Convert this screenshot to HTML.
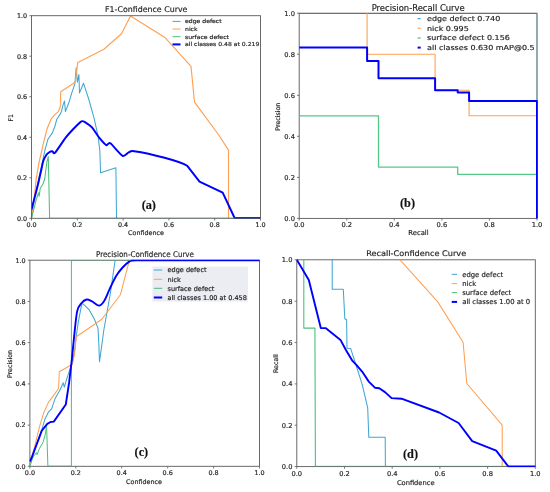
<!DOCTYPE html>
<html><head><meta charset="utf-8"><title>Curves</title>
<style>html,body{margin:0;padding:0;background:#fff;}svg{display:block;filter:blur(0.3px);}svg text{font-family:"DejaVu Sans","Liberation Sans",sans-serif;stroke:#262626;stroke-width:0.18px;}svg text.lb{font-family:"Liberation Serif","DejaVu Serif",serif;}</style></head>
<body><svg width="550" height="492" viewBox="0 0 550 492">
<rect width="550" height="492" fill="#fff"/>
<clipPath id="ca"><rect x="31.0" y="14.899999999999999" width="230.3" height="204.2"/></clipPath>
<polyline points="31.5,218.3 34.1,200.0 42.7,160.3 45.1,149.4 47.9,139.3 52.4,132.9 55.0,126.0 56.8,119.2 59.7,114.9 61.6,111.2 62.7,106.1 64.5,101.0 65.4,111.6 69.2,101.7 71.8,92.9 74.8,84.2 76.2,67.9 77.4,82.2 78.9,74.6 79.5,92.9 83.5,83.2 89.0,100.0 94.1,118.3 98.2,136.6 99.8,150.8 100.6,172.8 115.9,167.7 116.5,218.3" fill="none" stroke="#3fa6d2" stroke-width="1.05" stroke-linejoin="round" stroke-linecap="butt" clip-path="url(#ca)"/>
<polyline points="31.5,218.3 34.1,200.0 36.0,180.4 38.7,164.0 43.3,143.9 46.9,129.3 51.0,119.2 54.6,114.9 58.3,111.6 59.7,108.3 60.7,104.6 60.5,97.3 60.8,91.8 63.4,90.0 75.2,82.2 77.8,62.4 103.9,49.2 121.5,33.8 130.5,16.0 164.6,37.2 191.0,66.3 194.5,102.2 218.8,135.0 228.5,150.1 228.5,218.3" fill="none" stroke="#ffa052" stroke-width="1.15" stroke-linejoin="round" stroke-linecap="butt" clip-path="url(#ca)"/>
<polyline points="31.5,218.3 36.1,200.0 38.7,192.7 39.2,196.2 40.2,188.6 43.2,183.5 44.8,178.5 46.8,162.2 48.3,156.6 49.6,218.3" fill="none" stroke="#4abf7c" stroke-width="1.05" stroke-linejoin="round" stroke-linecap="butt" clip-path="url(#ca)"/>
<path d="M31.5,209.5 C31.5,209.5 35.0,196.0 35.0,196.0 C35.8,193.0 37.5,186.5 38.2,183.5 C38.9,180.5 40.6,172.9 41.2,170.3 C41.8,167.7 42.6,163.0 43.2,161.2 C43.8,159.4 45.6,156.2 46.3,155.1 C47.0,154.0 48.6,152.7 49.3,152.2 C50.0,151.7 51.7,151.1 52.4,151.2 C53.1,151.3 53.4,154.4 55.0,152.8 C56.6,151.2 63.5,140.4 65.7,137.6 C67.9,134.8 72.0,130.4 73.8,128.5 C75.6,126.6 80.1,122.0 81.5,121.3 C82.9,120.6 84.8,122.1 86.0,122.8 C87.2,123.5 90.5,125.7 92.0,127.4 C93.5,129.1 97.5,135.5 99.2,137.6 C100.9,139.7 105.0,144.4 106.3,145.1 C107.6,145.8 108.5,142.0 110.4,143.3 C112.3,144.6 120.5,154.8 122.6,155.9 C124.7,157.0 127.3,152.9 128.7,152.4 C130.1,151.9 130.0,150.6 134.2,151.2 C138.4,151.8 158.4,156.1 164.6,157.8 C170.8,159.5 183.0,162.9 187.1,165.7 C187.1,165.7 199.5,181.6 199.5,181.6 C199.5,181.6 222.7,192.7 222.7,192.7 C222.7,192.7 234.6,218.0 234.6,218.0 C234.6,218.0 260.5,218.0 260.5,218.0" fill="none" stroke="#0000ff" stroke-width="1.95" stroke-linejoin="round" clip-path="url(#ca)"/>
<rect x="31.5" y="15.7" width="229.0" height="202.6" fill="none" stroke="#5a5a5a" stroke-width="0.9"/>
<line x1="49.6" y1="217.85000000000002" x2="260.5" y2="217.85000000000002" stroke="#3f9a68" stroke-width="0.7" opacity="0.55"/>
<line x1="31.5" y1="218.3" x2="31.5" y2="220.5" stroke="#5a5a5a" stroke-width="0.8"/>
<line x1="31.5" y1="218.3" x2="29.3" y2="218.3" stroke="#5a5a5a" stroke-width="0.8"/>
<text x="31.5" y="226.6" font-size="6.4" text-anchor="middle" fill="#262626" >0.0</text>
<text x="27.2" y="220.6" font-size="6.4" text-anchor="end" fill="#262626" >0.0</text>
<line x1="77.3" y1="218.3" x2="77.3" y2="220.5" stroke="#5a5a5a" stroke-width="0.8"/>
<line x1="31.5" y1="177.8" x2="29.3" y2="177.8" stroke="#5a5a5a" stroke-width="0.8"/>
<text x="77.3" y="226.6" font-size="6.4" text-anchor="middle" fill="#262626" >0.2</text>
<text x="27.2" y="180.1" font-size="6.4" text-anchor="end" fill="#262626" >0.2</text>
<line x1="123.1" y1="218.3" x2="123.1" y2="220.5" stroke="#5a5a5a" stroke-width="0.8"/>
<line x1="31.5" y1="137.3" x2="29.3" y2="137.3" stroke="#5a5a5a" stroke-width="0.8"/>
<text x="123.1" y="226.6" font-size="6.4" text-anchor="middle" fill="#262626" >0.4</text>
<text x="27.2" y="139.6" font-size="6.4" text-anchor="end" fill="#262626" >0.4</text>
<line x1="168.9" y1="218.3" x2="168.9" y2="220.5" stroke="#5a5a5a" stroke-width="0.8"/>
<line x1="31.5" y1="96.7" x2="29.3" y2="96.7" stroke="#5a5a5a" stroke-width="0.8"/>
<text x="168.9" y="226.6" font-size="6.4" text-anchor="middle" fill="#262626" >0.6</text>
<text x="27.2" y="99.0" font-size="6.4" text-anchor="end" fill="#262626" >0.6</text>
<line x1="214.7" y1="218.3" x2="214.7" y2="220.5" stroke="#5a5a5a" stroke-width="0.8"/>
<line x1="31.5" y1="56.2" x2="29.3" y2="56.2" stroke="#5a5a5a" stroke-width="0.8"/>
<text x="214.7" y="226.6" font-size="6.4" text-anchor="middle" fill="#262626" >0.8</text>
<text x="27.2" y="58.5" font-size="6.4" text-anchor="end" fill="#262626" >0.8</text>
<line x1="260.5" y1="218.3" x2="260.5" y2="220.5" stroke="#5a5a5a" stroke-width="0.8"/>
<line x1="31.5" y1="15.7" x2="29.3" y2="15.7" stroke="#5a5a5a" stroke-width="0.8"/>
<text x="260.5" y="226.6" font-size="6.4" text-anchor="middle" fill="#262626" >1.0</text>
<text x="27.2" y="18.0" font-size="6.4" text-anchor="end" fill="#262626" >1.0</text>
<text x="146.2" y="12.3" font-size="7.9" text-anchor="middle" fill="#262626" textLength="82.4" lengthAdjust="spacingAndGlyphs" >F1-Confidence Curve</text>
<text x="146.0" y="235.2" font-size="6.4" text-anchor="middle" fill="#262626" >Confidence</text>
<text transform="translate(13.0,117.7) rotate(-90)" font-size="6.2" text-anchor="middle" fill="#262626">F1</text>
<line x1="172.5" y1="21.4" x2="180.5" y2="21.4" stroke="#3fa6d2" stroke-width="1"/>
<text transform="translate(185.0,23.3) scale(1.115,1)" font-size="5.5" fill="#262626">edge defect</text>
<line x1="172.5" y1="29.0" x2="180.5" y2="29.0" stroke="#ffa052" stroke-width="1"/>
<text transform="translate(185.0,30.9) scale(1.115,1)" font-size="5.5" fill="#262626">nick</text>
<line x1="172.5" y1="36.7" x2="180.5" y2="36.7" stroke="#4abf7c" stroke-width="1"/>
<text transform="translate(185.0,38.6) scale(1.115,1)" font-size="5.5" fill="#262626">surface defect</text>
<line x1="172.5" y1="44.4" x2="180.5" y2="44.4" stroke="#0000ff" stroke-width="2"/>
<text transform="translate(185.0,46.3) scale(1.115,1)" font-size="5.5" fill="#262626">all classes 0.48 at 0.219</text>
<text x="148.8" y="209.3" class="lb" font-weight="bold" font-size="12.3" text-anchor="middle" fill="#111">(a)</text>
<clipPath id="cb"><rect x="298.7" y="12.399999999999999" width="239.1" height="206.8"/></clipPath>
<polyline points="299.2,13.5 537.0,13.5" fill="none" stroke="#7fa3b8" stroke-width="1.0" stroke-linejoin="round" stroke-linecap="butt" clip-path="url(#cb)"/>
<rect x="299.2" y="13.2" width="237.8" height="205.2" fill="none" stroke="#5a5a5a" stroke-width="0.9"/>
<polyline points="537.0,13.2 537.0,218.4" fill="none" stroke="#6a9bb6" stroke-width="0.9" stroke-linejoin="round" stroke-linecap="butt" clip-path="url(#cb)"/>
<polyline points="367.1,13.2 367.1,54.2 435.1,54.2 435.1,90.2 469.1,90.2 469.1,115.8 537.0,115.8" fill="none" stroke="#ffa052" stroke-width="1.1" stroke-linejoin="round" stroke-linecap="butt" clip-path="url(#cb)"/>
<polyline points="299.2,115.8 378.5,115.8 378.5,167.1 457.7,167.1 457.7,174.4 537.0,174.4" fill="none" stroke="#55c888" stroke-width="1.3" stroke-linejoin="round" stroke-linecap="butt" clip-path="url(#cb)"/>
<polyline points="299.2,47.4 367.1,47.4 367.1,61.1 378.5,61.1 378.5,78.2 435.1,78.2 435.1,90.2 457.7,90.2 457.7,92.6 469.1,92.6 469.1,101.1 537.0,101.1 537.0,218.4" fill="none" stroke="#0000ff" stroke-width="2" stroke-linejoin="round" stroke-linecap="butt" clip-path="url(#cb)"/>
<line x1="299.2" y1="218.4" x2="299.2" y2="220.6" stroke="#5a5a5a" stroke-width="0.8"/>
<line x1="299.2" y1="218.4" x2="297.0" y2="218.4" stroke="#5a5a5a" stroke-width="0.8"/>
<text x="299.2" y="226.9" font-size="6.7" text-anchor="middle" fill="#262626" >0.0</text>
<text x="294.9" y="220.8" font-size="6.7" text-anchor="end" fill="#262626" >0.0</text>
<line x1="346.8" y1="218.4" x2="346.8" y2="220.6" stroke="#5a5a5a" stroke-width="0.8"/>
<line x1="299.2" y1="177.4" x2="297.0" y2="177.4" stroke="#5a5a5a" stroke-width="0.8"/>
<text x="346.8" y="226.9" font-size="6.7" text-anchor="middle" fill="#262626" >0.2</text>
<text x="294.9" y="179.8" font-size="6.7" text-anchor="end" fill="#262626" >0.2</text>
<line x1="394.3" y1="218.4" x2="394.3" y2="220.6" stroke="#5a5a5a" stroke-width="0.8"/>
<line x1="299.2" y1="136.3" x2="297.0" y2="136.3" stroke="#5a5a5a" stroke-width="0.8"/>
<text x="394.3" y="226.9" font-size="6.7" text-anchor="middle" fill="#262626" >0.4</text>
<text x="294.9" y="138.7" font-size="6.7" text-anchor="end" fill="#262626" >0.4</text>
<line x1="441.9" y1="218.4" x2="441.9" y2="220.6" stroke="#5a5a5a" stroke-width="0.8"/>
<line x1="299.2" y1="95.3" x2="297.0" y2="95.3" stroke="#5a5a5a" stroke-width="0.8"/>
<text x="441.9" y="226.9" font-size="6.7" text-anchor="middle" fill="#262626" >0.6</text>
<text x="294.9" y="97.7" font-size="6.7" text-anchor="end" fill="#262626" >0.6</text>
<line x1="489.4" y1="218.4" x2="489.4" y2="220.6" stroke="#5a5a5a" stroke-width="0.8"/>
<line x1="299.2" y1="54.2" x2="297.0" y2="54.2" stroke="#5a5a5a" stroke-width="0.8"/>
<text x="489.4" y="226.9" font-size="6.7" text-anchor="middle" fill="#262626" >0.8</text>
<text x="294.9" y="56.7" font-size="6.7" text-anchor="end" fill="#262626" >0.8</text>
<line x1="537.0" y1="218.4" x2="537.0" y2="220.6" stroke="#5a5a5a" stroke-width="0.8"/>
<line x1="299.2" y1="13.2" x2="297.0" y2="13.2" stroke="#5a5a5a" stroke-width="0.8"/>
<text x="537.0" y="226.9" font-size="6.7" text-anchor="middle" fill="#262626" >1.0</text>
<text x="294.9" y="15.6" font-size="6.7" text-anchor="end" fill="#262626" >1.0</text>
<text x="418.2" y="10.6" font-size="8.4" text-anchor="middle" fill="#262626" textLength="93.0" lengthAdjust="spacingAndGlyphs" >Precision-Recall Curve</text>
<text x="418.5" y="235.2" font-size="6.8" text-anchor="middle" fill="#262626" >Recall</text>
<text transform="translate(280.0,116.7) rotate(-90)" font-size="6.3" text-anchor="middle" fill="#262626">Precision</text>
<line x1="417.6" y1="18.6" x2="420.7" y2="18.6" stroke="#3fa6d2" stroke-width="1.2"/>
<text transform="translate(427.0,21.0) scale(1.16,1)" font-size="6.9" fill="#262626">edge defect 0.740</text>
<line x1="417.6" y1="28.2" x2="420.7" y2="28.2" stroke="#ffa052" stroke-width="1.2"/>
<text transform="translate(427.0,30.6) scale(1.16,1)" font-size="6.9" fill="#262626">nick 0.995</text>
<line x1="417.6" y1="38.0" x2="420.7" y2="38.0" stroke="#4abf7c" stroke-width="1.2"/>
<text transform="translate(427.0,40.4) scale(1.16,1)" font-size="6.9" fill="#262626">surface defect 0.156</text>
<line x1="417.6" y1="47.6" x2="420.7" y2="47.6" stroke="#0000ff" stroke-width="2"/>
<text transform="translate(427.0,50.0) scale(1.16,1)" font-size="6.9" fill="#262626">all classes 0.630 mAP@0.5</text>
<text x="407.5" y="206.5" class="lb" font-weight="bold" font-size="12.3" text-anchor="middle" fill="#111">(b)</text>
<clipPath id="cc"><rect x="29.4" y="259.4" width="230.9" height="207.7"/></clipPath>
<rect x="152.5" y="266.6" width="95.5" height="35" fill="#ececf3"/>
<rect x="29.9" y="260.2" width="229.6" height="206.1" fill="none" stroke="#5a5a5a" stroke-width="0.9"/>
<polyline points="29.9,466.3 32.0,457.0 41.8,429.6 45.1,418.7 48.4,412.2 51.6,408.9 54.9,399.1 60.4,389.3 63.2,382.7 64.3,387.1 66.9,378.4 71.3,365.3 74.5,352.0 76.1,336.9 78.3,322.2 81.9,303.2 85.5,306.2 89.2,309.8 94.4,319.3 98.0,328.1 98.7,341.2 99.5,361.7 103.9,329.5 106.8,313.5 110.4,293.0 115.1,260.2" fill="none" stroke="#3fa6d2" stroke-width="1.05" stroke-linejoin="round" stroke-linecap="butt" clip-path="url(#cc)"/>
<polyline points="29.9,466.3 32.0,457.0 35.3,443.8 39.6,426.4 44.0,412.2 48.4,402.4 54.9,393.6 58.6,388.2 59.3,371.8 72.4,364.2 74.5,354.4 76.3,336.8 101.8,319.2 120.4,294.7 128.4,264.2 130.2,260.2" fill="none" stroke="#ffa052" stroke-width="1.05" stroke-linejoin="round" stroke-linecap="butt" clip-path="url(#cc)"/>
<polyline points="29.9,466.3 33.1,456.9 36.4,452.6 37.0,454.7 39.6,448.2 42.9,442.7 45.1,435.1 46.6,426.4 47.9,466.3" fill="none" stroke="#4abf7c" stroke-width="1.0" stroke-linejoin="round" stroke-linecap="butt" clip-path="url(#cc)"/>
<polyline points="71.4,466.3 71.4,260.2" fill="none" stroke="#4abf7c" stroke-width="1.0" stroke-linejoin="round" stroke-linecap="butt" clip-path="url(#cc)"/>
<path d="M29.9,461.5 C29.9,461.5 32.0,456.9 32.0,456.9 C32.0,456.9 41.8,430.7 41.8,430.7 C41.8,430.7 47.3,423.8 47.3,423.8 C47.3,423.8 50.5,422.0 50.5,422.0 C50.5,422.0 53.8,421.6 53.8,421.6 C53.8,421.6 65.8,404.5 65.8,404.5 C65.8,404.5 69.1,382.7 69.1,382.7 C69.1,382.7 71.7,360.9 71.7,360.9 C72.5,353.4 73.7,340.4 74.5,332.9 C75.3,325.4 76.2,315.5 77.2,311.1 C78.2,306.7 79.7,305.2 81.1,303.5 C82.5,301.8 85.0,299.8 86.6,299.5 C88.2,299.2 90.1,300.4 92.0,301.3 C93.9,302.2 97.2,305.6 99.0,305.6 C100.8,305.6 102.4,303.7 104.0,301.3 C105.6,298.9 107.7,293.1 109.5,289.3 C111.3,285.5 114.0,279.5 116.0,276.2 C118.0,272.9 120.6,269.7 122.6,267.5 C124.6,265.3 127.5,262.7 129.1,261.6 C130.7,260.6 131.8,260.7 133.0,260.5 C134.2,260.3 135.8,260.4 137.0,260.4 C138.2,260.4 122.6,260.4 141.0,260.4 C159.4,260.4 241.7,260.4 259.5,260.4" fill="none" stroke="#0000ff" stroke-width="1.9" stroke-linejoin="round" clip-path="url(#cc)"/>
<line x1="47.9" y1="465.85" x2="71.4" y2="465.85" stroke="#3f9a68" stroke-width="0.7" opacity="0.55"/>
<line x1="71.4" y1="260.65" x2="131" y2="260.65" stroke="#3f9a68" stroke-width="0.7" opacity="0.55"/>
<line x1="29.9" y1="466.3" x2="29.9" y2="468.5" stroke="#5a5a5a" stroke-width="0.8"/>
<line x1="29.9" y1="466.3" x2="27.7" y2="466.3" stroke="#5a5a5a" stroke-width="0.8"/>
<text x="29.9" y="474.8" font-size="6.4" text-anchor="middle" fill="#262626" >0.0</text>
<text x="25.6" y="468.6" font-size="6.4" text-anchor="end" fill="#262626" >0.0</text>
<line x1="75.8" y1="466.3" x2="75.8" y2="468.5" stroke="#5a5a5a" stroke-width="0.8"/>
<line x1="29.9" y1="425.1" x2="27.7" y2="425.1" stroke="#5a5a5a" stroke-width="0.8"/>
<text x="75.8" y="474.8" font-size="6.4" text-anchor="middle" fill="#262626" >0.2</text>
<text x="25.6" y="427.4" font-size="6.4" text-anchor="end" fill="#262626" >0.2</text>
<line x1="121.7" y1="466.3" x2="121.7" y2="468.5" stroke="#5a5a5a" stroke-width="0.8"/>
<line x1="29.9" y1="383.9" x2="27.7" y2="383.9" stroke="#5a5a5a" stroke-width="0.8"/>
<text x="121.7" y="474.8" font-size="6.4" text-anchor="middle" fill="#262626" >0.4</text>
<text x="25.6" y="386.2" font-size="6.4" text-anchor="end" fill="#262626" >0.4</text>
<line x1="167.7" y1="466.3" x2="167.7" y2="468.5" stroke="#5a5a5a" stroke-width="0.8"/>
<line x1="29.9" y1="342.6" x2="27.7" y2="342.6" stroke="#5a5a5a" stroke-width="0.8"/>
<text x="167.7" y="474.8" font-size="6.4" text-anchor="middle" fill="#262626" >0.6</text>
<text x="25.6" y="344.9" font-size="6.4" text-anchor="end" fill="#262626" >0.6</text>
<line x1="213.6" y1="466.3" x2="213.6" y2="468.5" stroke="#5a5a5a" stroke-width="0.8"/>
<line x1="29.9" y1="301.4" x2="27.7" y2="301.4" stroke="#5a5a5a" stroke-width="0.8"/>
<text x="213.6" y="474.8" font-size="6.4" text-anchor="middle" fill="#262626" >0.8</text>
<text x="25.6" y="303.7" font-size="6.4" text-anchor="end" fill="#262626" >0.8</text>
<line x1="259.5" y1="466.3" x2="259.5" y2="468.5" stroke="#5a5a5a" stroke-width="0.8"/>
<line x1="29.9" y1="260.2" x2="27.7" y2="260.2" stroke="#5a5a5a" stroke-width="0.8"/>
<text x="259.5" y="474.8" font-size="6.4" text-anchor="middle" fill="#262626" >1.0</text>
<text x="25.6" y="262.5" font-size="6.4" text-anchor="end" fill="#262626" >1.0</text>
<text x="145.0" y="257.0" font-size="7.9" text-anchor="middle" fill="#262626" textLength="98.0" lengthAdjust="spacingAndGlyphs" >Precision-Confidence Curve</text>
<text x="144.0" y="483.6" font-size="6.4" text-anchor="middle" fill="#262626" >Confidence</text>
<text transform="translate(12.0,364.0) rotate(-90)" font-size="6.3" text-anchor="middle" fill="#262626">Precision</text>
<line x1="153.8" y1="270" x2="162.2" y2="270" stroke="#3fa6d2" stroke-width="1"/>
<text transform="translate(167.5,272.3) scale(1.0,1)" font-size="6.54" fill="#262626">edge defect</text>
<line x1="153.8" y1="279.3" x2="162.2" y2="279.3" stroke="#ffa052" stroke-width="1"/>
<text transform="translate(167.5,281.6) scale(1.0,1)" font-size="6.54" fill="#262626">nick</text>
<line x1="153.8" y1="288.3" x2="162.2" y2="288.3" stroke="#4abf7c" stroke-width="1"/>
<text transform="translate(167.5,290.6) scale(1.0,1)" font-size="6.54" fill="#262626">surface defect</text>
<line x1="153.8" y1="297.5" x2="162.2" y2="297.5" stroke="#0000ff" stroke-width="2"/>
<text transform="translate(167.5,299.8) scale(1.0,1)" font-size="6.54" fill="#262626">all classes 1.00 at 0.458</text>
<text x="141.4" y="455.8" class="lb" font-weight="bold" font-size="12.3" text-anchor="middle" fill="#111">(c)</text>
<clipPath id="cd"><rect x="296.3" y="259.0" width="239.8" height="208.4"/></clipPath>
<rect x="296.8" y="259.8" width="238.5" height="206.8" fill="none" stroke="#5a5a5a" stroke-width="0.9"/>
<polyline points="332.2,259.8 332.2,289.3 343.3,289.3 344.8,318.7 346.6,319.8 347.0,348.2 350.7,348.6 356.8,367.5 362.3,384.9 367.7,407.8 368.8,437.3 385.2,437.3 385.4,466.6" fill="none" stroke="#3fa6d2" stroke-width="1.05" stroke-linejoin="round" stroke-linecap="butt" clip-path="url(#cd)"/>
<polyline points="400.0,259.8 437.6,301.6 463.1,342.2 466.8,383.5 502.2,425.2 502.2,466.6" fill="none" stroke="#ffa052" stroke-width="1.05" stroke-linejoin="round" stroke-linecap="butt" clip-path="url(#cd)"/>
<polyline points="303.8,259.8 303.8,328.1 314.9,328.1 315.4,466.6" fill="none" stroke="#4abf7c" stroke-width="1.1" stroke-linejoin="round" stroke-linecap="butt" clip-path="url(#cd)"/>
<polyline points="296.8,259.8 308.8,280.1 320.8,328.1 325.6,328.1 340.5,339.9 345.9,350.0 352.5,360.9 356.8,365.3 362.3,371.8 368.8,381.6 374.9,387.7 379.3,388.2 385.0,392.1 391.6,398.1 401.5,398.7 439.1,412.5 458.6,423.0 472.2,441.1 496.2,450.7 508.2,466.4 535.3,466.4" fill="none" stroke="#0000ff" stroke-width="1.9" stroke-linejoin="round" stroke-linecap="butt" clip-path="url(#cd)"/>
<line x1="315.4" y1="466.15000000000003" x2="508" y2="466.15000000000003" stroke="#3f9a68" stroke-width="0.7" opacity="0.55"/>
<line x1="296.8" y1="466.6" x2="296.8" y2="468.8" stroke="#5a5a5a" stroke-width="0.8"/>
<line x1="296.8" y1="466.6" x2="294.6" y2="466.6" stroke="#5a5a5a" stroke-width="0.8"/>
<text x="296.8" y="475.6" font-size="6.7" text-anchor="middle" fill="#262626" >0.0</text>
<text x="292.5" y="469.0" font-size="6.7" text-anchor="end" fill="#262626" >0.0</text>
<line x1="344.5" y1="466.6" x2="344.5" y2="468.8" stroke="#5a5a5a" stroke-width="0.8"/>
<line x1="296.8" y1="425.2" x2="294.6" y2="425.2" stroke="#5a5a5a" stroke-width="0.8"/>
<text x="344.5" y="475.6" font-size="6.7" text-anchor="middle" fill="#262626" >0.2</text>
<text x="292.5" y="427.7" font-size="6.7" text-anchor="end" fill="#262626" >0.2</text>
<line x1="392.2" y1="466.6" x2="392.2" y2="468.8" stroke="#5a5a5a" stroke-width="0.8"/>
<line x1="296.8" y1="383.9" x2="294.6" y2="383.9" stroke="#5a5a5a" stroke-width="0.8"/>
<text x="392.2" y="475.6" font-size="6.7" text-anchor="middle" fill="#262626" >0.4</text>
<text x="292.5" y="386.3" font-size="6.7" text-anchor="end" fill="#262626" >0.4</text>
<line x1="439.9" y1="466.6" x2="439.9" y2="468.8" stroke="#5a5a5a" stroke-width="0.8"/>
<line x1="296.8" y1="342.5" x2="294.6" y2="342.5" stroke="#5a5a5a" stroke-width="0.8"/>
<text x="439.9" y="475.6" font-size="6.7" text-anchor="middle" fill="#262626" >0.6</text>
<text x="292.5" y="344.9" font-size="6.7" text-anchor="end" fill="#262626" >0.6</text>
<line x1="487.6" y1="466.6" x2="487.6" y2="468.8" stroke="#5a5a5a" stroke-width="0.8"/>
<line x1="296.8" y1="301.2" x2="294.6" y2="301.2" stroke="#5a5a5a" stroke-width="0.8"/>
<text x="487.6" y="475.6" font-size="6.7" text-anchor="middle" fill="#262626" >0.8</text>
<text x="292.5" y="303.6" font-size="6.7" text-anchor="end" fill="#262626" >0.8</text>
<line x1="535.3" y1="466.6" x2="535.3" y2="468.8" stroke="#5a5a5a" stroke-width="0.8"/>
<line x1="296.8" y1="259.8" x2="294.6" y2="259.8" stroke="#5a5a5a" stroke-width="0.8"/>
<text x="535.3" y="475.6" font-size="6.7" text-anchor="middle" fill="#262626" >1.0</text>
<text x="292.5" y="262.2" font-size="6.7" text-anchor="end" fill="#262626" >1.0</text>
<text x="416.2" y="256.0" font-size="7.7" text-anchor="middle" fill="#262626" textLength="100.0" lengthAdjust="spacingAndGlyphs" >Recall-Confidence Curve</text>
<text x="415.7" y="484.6" font-size="6.7" text-anchor="middle" fill="#262626" >Confidence</text>
<text transform="translate(278.0,363.6) rotate(-90)" font-size="6.3" text-anchor="middle" fill="#262626">Recall</text>
<line x1="451.7" y1="274.3" x2="457.1" y2="274.3" stroke="#3fa6d2" stroke-width="1"/>
<text transform="translate(462.2,276.7) scale(1.0,1)" font-size="6.85" fill="#262626">edge defect</text>
<line x1="451.7" y1="283.6" x2="457.1" y2="283.6" stroke="#ffa052" stroke-width="1"/>
<text transform="translate(462.2,286.0) scale(1.0,1)" font-size="6.85" fill="#262626">nick</text>
<line x1="451.7" y1="292.6" x2="457.1" y2="292.6" stroke="#4abf7c" stroke-width="1"/>
<text transform="translate(462.2,295.0) scale(1.0,1)" font-size="6.85" fill="#262626">surface defect</text>
<line x1="451.7" y1="301.9" x2="457.1" y2="301.9" stroke="#0000ff" stroke-width="2"/>
<text transform="translate(462.2,304.3) scale(1.0,1)" font-size="6.85" fill="#262626">all classes 1.00 at 0</text>
<text x="410.5" y="458" class="lb" font-weight="bold" font-size="12.3" text-anchor="middle" fill="#111">(d)</text>
</svg></body></html>
